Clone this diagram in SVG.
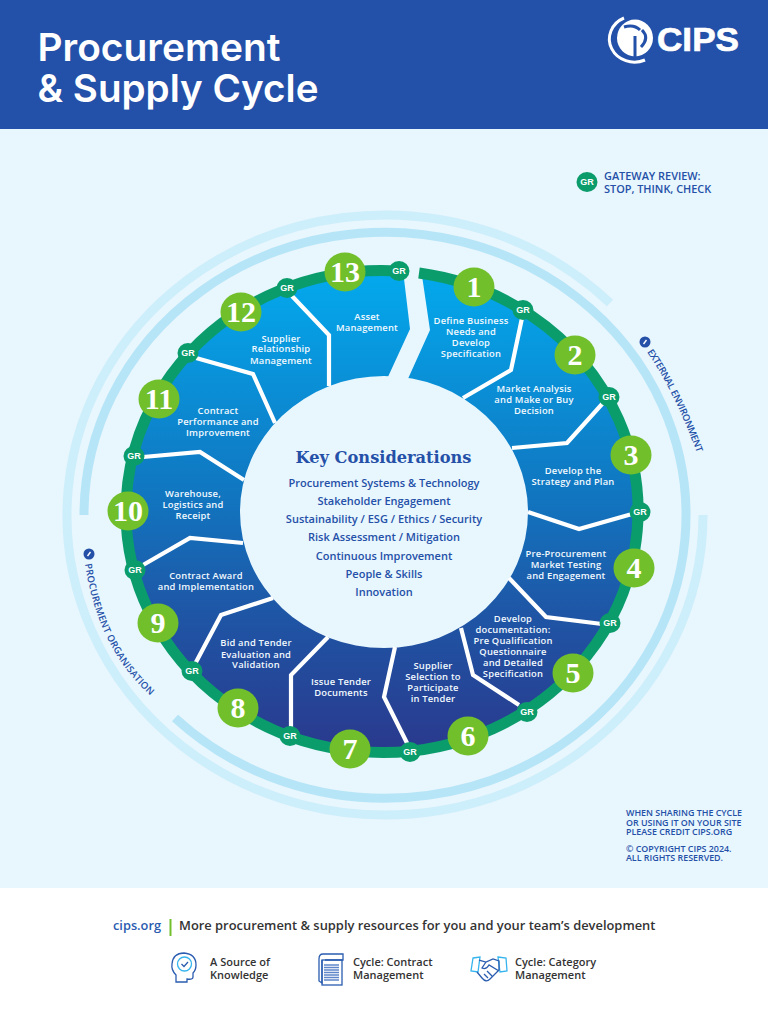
<svg xmlns="http://www.w3.org/2000/svg" xmlns:xlink="http://www.w3.org/1999/xlink" width="768" height="1024" viewBox="0 0 768 1024">
<style>
text{font-family:"Open Sans","Liberation Sans",sans-serif}
.w{font-size:9.4px;font-weight:600;fill:#f2f9fe;text-anchor:middle;letter-spacing:.2px}
.k{font-size:11px;font-weight:600;fill:#2450a8;text-anchor:middle}
.b{fill:#72bf2c}
.n{font-family:"Liberation Serif",serif;font-weight:700;font-size:30px;fill:#fff;text-anchor:middle}
.g{fill:#0b9c6c}
.r{font-family:"Liberation Sans",sans-serif;font-weight:700;font-size:9px;fill:#fff;text-anchor:middle}
.s{fill:none;stroke:#fff;stroke-width:4.200}
.f{font-size:8.900px;font-weight:600;fill:#2450a8}
.l{font-size:11px;font-weight:600;fill:#333}
.i{fill:none;stroke:#2a5cb0;stroke-width:1.300}
.c{fill:none;stroke:#35b4ee;stroke-width:1.300}
</style>
<defs>
<linearGradient id="wg" gradientUnits="userSpaceOnUse" x1="0" y1="268" x2="0" y2="752">
<stop offset="0" stop-color="#03aaee"/><stop offset=".45" stop-color="#1078c2"/><stop offset=".72" stop-color="#1f55a5"/><stop offset="1" stop-color="#2a398d"/>
</linearGradient>
<path id="pe" d="M647,352 Q675,392.500 698,456"/>
<path id="pp" d="M85,564 Q98,650 153,698"/>
</defs>
<rect width="768" height="1024" fill="#e8f6fd"/>
<rect id="header" width="768" height="129" fill="#2350a8"/>
<rect id="footer" y="888" width="768" height="136" fill="#fff"/>
<g id="title" font-weight="600" fill="#fff">
<text x="37.500" y="61" style="font-family:Inter,'Liberation Sans',sans-serif;font-size:38px" textLength="243" lengthAdjust="spacingAndGlyphs">Procurement</text>
<text x="37.500" y="102" style="font-family:Inter,'Liberation Sans',sans-serif;font-size:38px" textLength="281" lengthAdjust="spacingAndGlyphs">&amp; Supply Cycle</text>
</g>
<g id="logo">
<path d="M624,18 A25,23 0 0 0 645,60" fill="none" stroke="#fff" stroke-width="3"/>
<ellipse cx="635" cy="38" rx="18" ry="18.500" fill="#fff"/>
<path d="M624,27 Q634,24 640,30 M642,30 Q650,38 641,47 M635,36 L635,57" fill="none" stroke="#2350a8" stroke-width="3"/>
<text x="657" y="51" fill="#fff" style="font-family:'Liberation Sans',sans-serif;font-weight:700;font-size:34px" textLength="82" lengthAdjust="spacingAndGlyphs" stroke="#fff" stroke-width=".7">CIPS</text>
</g>
<g id="legend">
<ellipse cx="587" cy="182" rx="10.500" ry="10" class="g"/>
<text x="587" y="185" class="r">GR</text>
<text x="604" y="180" class="f" style="font-size:10.900px">GATEWAY REVIEW:</text>
<text x="604" y="192.500" class="f" style="font-size:10.900px">STOP, THINK, CHECK</text>
</g>
<g id="outer-arcs" fill="none" stroke-width="9">
<path d="M610,303 A318,300 0 1 0 703,515" stroke="#cdeefb"/>
<path d="M84,515 A301,283 0 1 1 175,718" stroke="#b7e5f8"/>
</g>
<g id="external-environment">
<circle cx="645" cy="342" r="5.500" fill="#2450a8"/>
<path d="M643.500,344 L646.500,340" stroke="#fff" stroke-width="1.400"/>
<text font-size="9.500" font-weight="600" fill="#2450a8"><textPath xlink:href="#pe" href="#pe" textLength="113">EXTERNAL ENVIRONMENT</textPath></text>
</g>
<g id="procurement-organisation">
<circle cx="89" cy="554" r="5.500" fill="#2450a8"/>
<path d="M87.500,556 L90.500,552" stroke="#fff" stroke-width="1.400"/>
<text font-size="9.500" font-weight="600" fill="#2450a8"><textPath xlink:href="#pp" href="#pp" textLength="150">PROCUREMENT ORGANISATION</textPath></text>
</g>
<path id="wheel" fill-rule="evenodd" fill="url(#wg)" d="M128,511 A256,241 0 1 1 640,511 A256,241 0 1 1 128,511 Z M240,512 A144,136 0 1 0 528,512 A144,136 0 1 0 240,512 Z"/>
<polygon id="wheel-gap" fill="#e8f6fd" points="402,262 410,329 387,379 407,381 430,330 420,262"/>
<path id="ring" d="M419,273 A256,241 0 1 1 399,271" fill="none" stroke="#0b9c6c" stroke-width="11"/>
<g id="connectors">
<polyline class="s" points="522,318 511,370 463,398"/>
<polyline class="s" points="603,403 567,443 512,448"/>
<polyline class="s" points="632,514 579,529 528,512"/>
<polyline class="s" points="602,624 546,617 509,578"/>
<polyline class="s" points="519,705 473,675 461,628"/>
<polyline class="s" points="408,745 384,697 395,647"/>
<polyline class="s" points="291,729 291,675 328,637"/>
<polyline class="s" points="195,664 221,615 273,598"/>
<polyline class="s" points="143,565 190,538 243,543"/>
<polyline class="s" points="143,457 200,452 244,480"/>
<polyline class="s" points="196,358 253,374 275,423"/>
<polyline class="s" points="292,296 329,335 329,386"/>
</g>
<g id="gateways">
<g id="gr1"><ellipse cx="399" cy="271" rx="10.500" ry="10" class="g"/><text x="399" y="274.200" class="r">GR</text></g>
<g id="gr2"><ellipse cx="523" cy="310" rx="10.500" ry="10" class="g"/><text x="523" y="313.200" class="r">GR</text></g>
<g id="gr3"><ellipse cx="609" cy="397" rx="10.500" ry="10" class="g"/><text x="609" y="400.200" class="r">GR</text></g>
<g id="gr4"><ellipse cx="640" cy="512" rx="10.500" ry="10" class="g"/><text x="640" y="515.200" class="r">GR</text></g>
<g id="gr5"><ellipse cx="610" cy="623" rx="10.500" ry="10" class="g"/><text x="610" y="626.200" class="r">GR</text></g>
<g id="gr6"><ellipse cx="527" cy="712" rx="10.500" ry="10" class="g"/><text x="527" y="715.200" class="r">GR</text></g>
<g id="gr7"><ellipse cx="410" cy="752" rx="10.500" ry="10" class="g"/><text x="410" y="755.200" class="r">GR</text></g>
<g id="gr8"><ellipse cx="290" cy="736" rx="10.500" ry="10" class="g"/><text x="290" y="739.200" class="r">GR</text></g>
<g id="gr9"><ellipse cx="192" cy="671" rx="10.500" ry="10" class="g"/><text x="192" y="674.200" class="r">GR</text></g>
<g id="gr10"><ellipse cx="135" cy="570" rx="10.500" ry="10" class="g"/><text x="135" y="573.200" class="r">GR</text></g>
<g id="gr11"><ellipse cx="134" cy="456" rx="10.500" ry="10" class="g"/><text x="134" y="459.200" class="r">GR</text></g>
<g id="gr12"><ellipse cx="188" cy="353" rx="10.500" ry="10" class="g"/><text x="188" y="356.200" class="r">GR</text></g>
<g id="gr13"><ellipse cx="287" cy="288" rx="10.500" ry="10" class="g"/><text x="287" y="291.200" class="r">GR</text></g>
</g>
<g id="step1"><ellipse cx="474" cy="287" rx="20.500" ry="19.500" class="b"/><text x="474" y="297" class="n">1</text>
<text class="w" x="471" y="324">Define Business</text><text class="w" x="471" y="335">Needs and</text><text class="w" x="471" y="346">Develop</text><text class="w" x="471" y="357">Specification</text></g>
<g id="step2"><ellipse cx="575" cy="355" rx="20.500" ry="19.500" class="b"/><text x="575" y="365" class="n">2</text>
<text class="w" x="534" y="392">Market Analysis</text><text class="w" x="534" y="403">and Make or Buy</text><text class="w" x="534" y="414">Decision</text></g>
<g id="step3"><ellipse cx="631" cy="455" rx="20.500" ry="19.500" class="b"/><text x="631" y="465" class="n">3</text>
<text class="w" x="573" y="474">Develop the</text><text class="w" x="573" y="485">Strategy and Plan</text></g>
<g id="step4"><ellipse cx="634" cy="568" rx="20.500" ry="19.500" class="b"/><text x="634" y="578" class="n">4</text>
<text class="w" x="566" y="557">Pre-Procurement</text><text class="w" x="566" y="568">Market Testing</text><text class="w" x="566" y="579">and Engagement</text></g>
<g id="step5"><ellipse cx="573" cy="673" rx="20.500" ry="19.500" class="b"/><text x="573" y="683" class="n">5</text>
<text class="w" x="513" y="622">Develop</text><text class="w" x="513" y="633">documentation:</text><text class="w" x="513" y="644">Pre Qualification</text><text class="w" x="513" y="655">Questionnaire</text><text class="w" x="513" y="666">and Detailed</text><text class="w" x="513" y="677">Specification</text></g>
<g id="step6"><ellipse cx="468" cy="736" rx="20.500" ry="19.500" class="b"/><text x="468" y="746" class="n">6</text>
<text class="w" x="433" y="669">Supplier</text><text class="w" x="433" y="680">Selection to</text><text class="w" x="433" y="691">Participate</text><text class="w" x="433" y="702">in Tender</text></g>
<g id="step7"><ellipse cx="350" cy="749" rx="20.500" ry="19.500" class="b"/><text x="350" y="759" class="n">7</text>
<text class="w" x="341" y="685">Issue Tender</text><text class="w" x="341" y="696">Documents</text></g>
<g id="step8"><ellipse cx="238" cy="708" rx="20.500" ry="19.500" class="b"/><text x="238" y="718" class="n">8</text>
<text class="w" x="256" y="646">Bid and Tender</text><text class="w" x="256" y="658">Evaluation and</text><text class="w" x="256" y="668">Validation</text></g>
<g id="step9"><ellipse cx="158" cy="623" rx="20.500" ry="19.500" class="b"/><text x="158" y="633" class="n">9</text>
<text class="w" x="206" y="579">Contract Award</text><text class="w" x="206" y="590">and Implementation</text></g>
<g id="step10"><ellipse cx="128" cy="511" rx="20.500" ry="19.500" class="b"/><text x="128" y="521" class="n">10</text>
<text class="w" x="193" y="497">Warehouse,</text><text class="w" x="193" y="508">Logistics and</text><text class="w" x="193" y="519">Receipt</text></g>
<g id="step11"><ellipse cx="159" cy="399" rx="20.500" ry="19.500" class="b"/><text x="159" y="409" class="n">11</text>
<text class="w" x="218" y="414">Contract</text><text class="w" x="218" y="425">Performance and</text><text class="w" x="218" y="436">Improvement</text></g>
<g id="step12"><ellipse cx="241" cy="312" rx="20.500" ry="19.500" class="b"/><text x="241" y="322" class="n">12</text>
<text class="w" x="281" y="342">Supplier</text><text class="w" x="281" y="352">Relationship</text><text class="w" x="281" y="364">Management</text></g>
<g id="step13"><ellipse cx="345" cy="272" rx="20.500" ry="19.500" class="b"/><text x="345" y="282" class="n">13</text>
<text class="w" x="367" y="320">Asset</text><text class="w" x="367" y="331">Management</text></g>
<g id="key-considerations">
<text x="383.500" y="463" text-anchor="middle" fill="#2450a8" style="font-family:'DejaVu Serif','Liberation Serif',serif;font-weight:700;font-size:17px" textLength="176" lengthAdjust="spacingAndGlyphs">Key Considerations</text>
<text class="k" x="384" y="487">Procurement Systems &amp; Technology</text>
<text class="k" x="384" y="505">Stakeholder Engagement</text>
<text class="k" x="384" y="523">Sustainability / ESG / Ethics / Security</text>
<text class="k" x="384" y="541">Risk Assessment / Mitigation</text>
<text class="k" x="384" y="560">Continuous Improvement</text>
<text class="k" x="384" y="578">People &amp; Skills</text>
<text class="k" x="384" y="596">Innovation</text>
</g>
<g id="credit">
<text class="f" x="626" y="816">WHEN SHARING THE CYCLE</text>
<text class="f" x="626" y="826">OR USING IT ON YOUR SITE</text>
<text class="f" x="626" y="835">PLEASE CREDIT CIPS.ORG</text>
<text class="f" x="626" y="852">© COPYRIGHT CIPS 2024.</text>
<text class="f" x="626" y="861">ALL RIGHTS RESERVED.</text>
</g>
<g id="footer-text">
<text x="113" y="930" font-size="12.800" font-weight="600" fill="#2a5cb0">cips.org</text>
<rect x="169.500" y="919" width="2" height="17" fill="#72bf2c"/>
<text x="179" y="930" font-size="12.900" font-weight="600" fill="#333">More procurement &amp; supply resources for you and your team’s development</text>
</g>
<g id="source-of-knowledge">
<path class="i" d="M176,982 L176,975 Q171,970 172,964 Q173,953 184,953 Q196,954 196,965 Q196,970 193,973 L193,977 Q193,980 187,979 L187,982 Z"/>
<circle class="c" cx="184.500" cy="964" r="7"/>
<path d="M181.500,964 L184,966.500 L188,962" fill="none" stroke="#2a5cb0" stroke-width="1.300"/>
<text class="l" x="210" y="966">A Source of</text><text class="l" x="210" y="979">Knowledge</text>
</g>
<g id="cycle-contract">
<path class="i" d="M319,959 Q319,954 323,954 L343,954 L343,960 L325,960 M319,959 L319,981 L322,983 L322,960"/>
<rect class="i" x="322" y="960" width="20" height="25"/>
<path d="M324,965 H339 M324,967.500 H339 M324,970 H339 M324,972.500 H339 M324,975 H339 M324,977.500 H339 M324,980 H339" stroke="#5f86c8" stroke-width="1.500" fill="none"/>
<text class="l" x="353" y="966">Cycle: Contract</text><text class="l" x="353" y="979">Management</text>
</g>
<g id="cycle-category">
<path class="c" d="M473,958 L480,957 L478,972 L471,971 Z M498,957 L506,958 L507,971 L500,972 Z"/>
<path class="i" d="M479,960 L486,962 L493,959 L499,961 L499,970 L490,979 Q486,983 482,978 L477,972 M486,962 L482,968 Q486,970 489,965 L499,971 M484,974 L488,978 M487,971 L492,976"/>
<text class="l" x="515" y="966">Cycle: Category</text><text class="l" x="515" y="979">Management</text>
</g>
</svg>
